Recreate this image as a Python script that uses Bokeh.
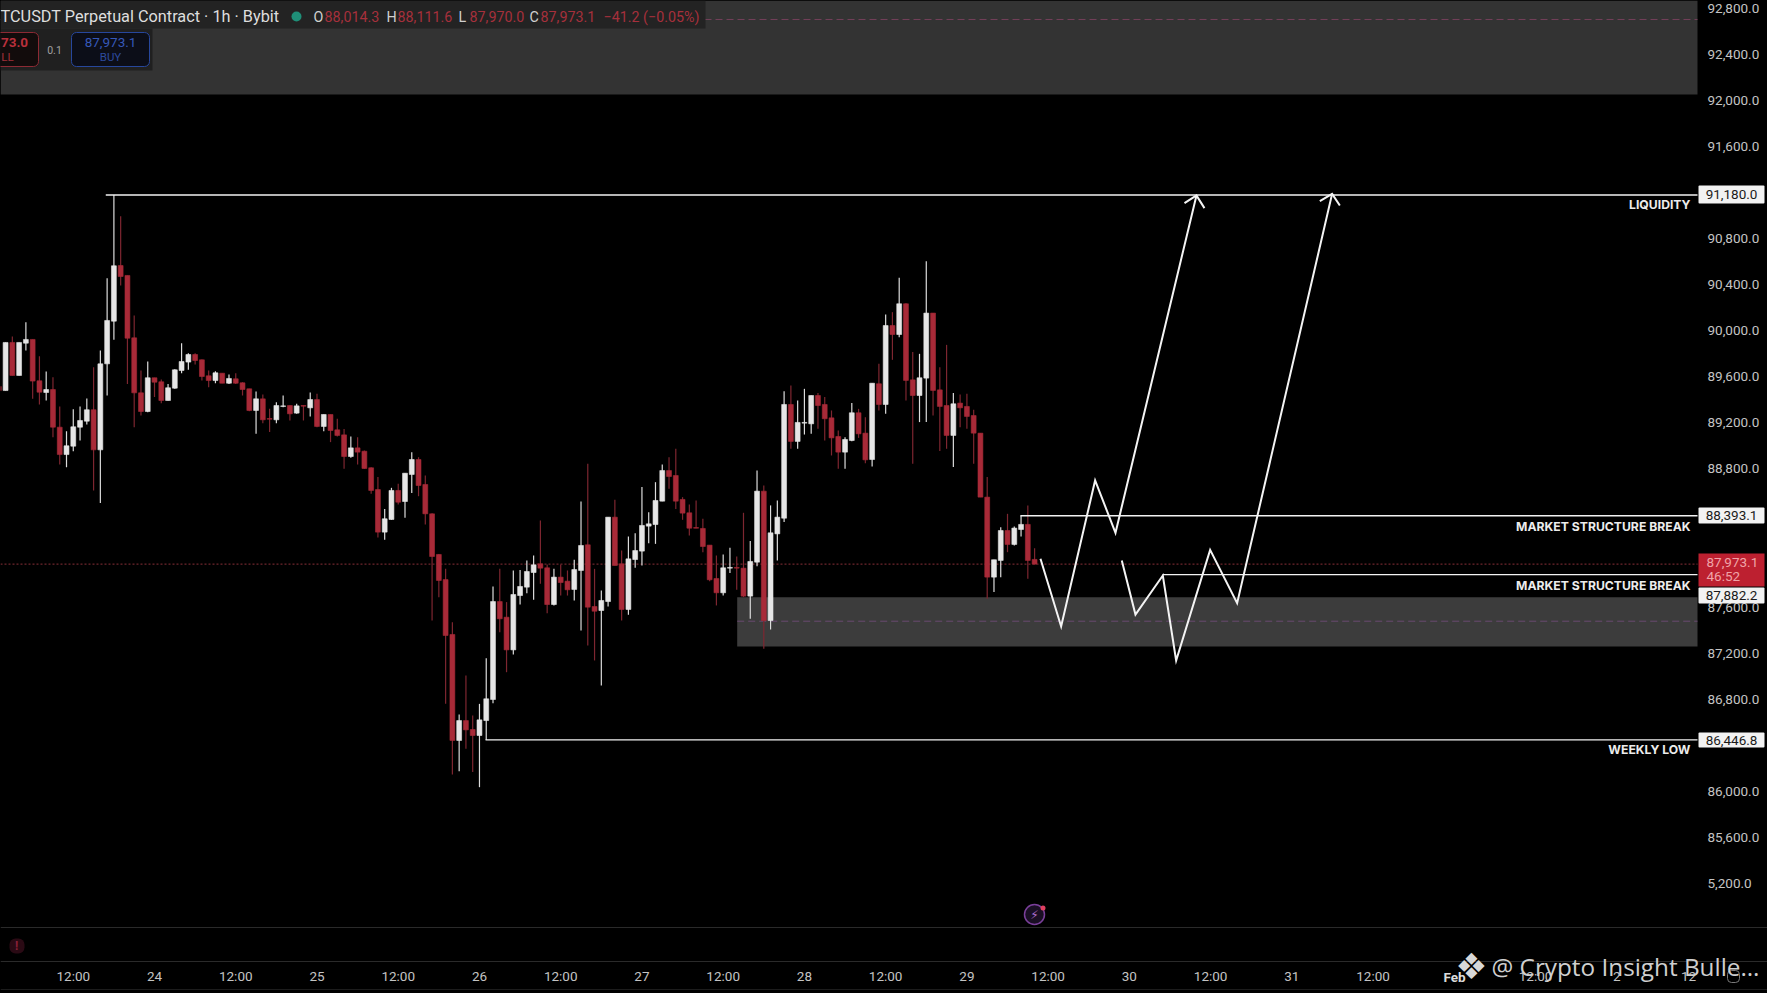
from bokeh.plotting import figure
from bokeh.models import (ColumnDataSource, Label, BoxAnnotation, FixedTicker, NumeralTickFormatter,
                          GlobalInlineStyleSheet)
from bokeh.embed import file_html
from bokeh.resources import INLINE

hours = list(range(-23, 131))
open_ = [89516,89481,89899,89612,89893,89925,89566,89464,89490,89163,88925,88998,89163,89215,89314,88966,89713,90084,90567,90481,89939,89461,89299,
89592,89557,89395,89502,89655,89728,89794,89748,89609,89568,89632,89545,89583,89548,89496,89308,89409,89238,89227,89343,89351,89285,89351,89331,
89403,89169,89273,89140,89096,88908,88983,88954,88810,88621,88251,88361,88613,88517,88752,88882,88665,88410,88057,87839,87362,86441,86614,86536,
86484,86614,86797,87648,87512,87228,87700,87773,87900,87976,87941,87622,87860,87825,87753,87918,88141,87605,87570,87648,88381,87976,87579,88013,
88086,88303,88317,88520,88786,88743,88535,88419,88291,88283,88138,87848,87724,87938,87944,87938,87695,87990,88607,87483,88236,88372,
89360,89039,89198,89192,89438,89360,89244,89082,88946,89047,89288,89111,88882,89540,89360,90046,89968,90235,89574,89438,89589,90154,89487,89351,89091,89372,
89343,89264,89111,88555,87860,88005,88265,88144,88274,88318,88014]
high_ = [89516,89899,89951,89899,90075,89925,89780,89647,89597,89343,89128,89319,89343,89412,89684,89829,90457,91180,90996,90481,90133,89655,89733,
89592,89577,89539,89667,89893,89806,89806,89751,89655,89649,89632,89621,89632,89554,89496,89473,89447,89322,89380,89438,89351,89366,89351,89464,
89453,89273,89273,89235,89148,89082,89076,88960,88815,88729,88453,88636,88671,88763,88946,88902,88743,88416,88062,87932,87469,86667,87005,86658,
86759,87156,87779,87932,87643,87918,87923,88005,88048,88352,87970,87932,87970,87918,88010,88517,88844,87932,87744,88381,88532,88091,88213,88242,
88642,88424,88685,88839,88902,88975,88555,88491,88526,88367,88138,88048,88057,88115,88039,88419,88173,88787,88656,88483,88526,89476,
89525,89395,89496,89438,89459,89424,89308,89134,89076,89372,89322,89250,89545,89713,90142,90162,90461,90240,89815,89800,90605,90154,89684,89878,89459,89447,
89453,89314,89111,88729,88011,88294,88410,88300,88393,88483,88111]
low_ = [89481,89481,89612,89612,89829,89409,89360,89395,89076,88839,88815,88954,89047,89186,88613,88503,89438,89922,90394,89539,89163,89264,89293,
89424,89371,89395,89496,89632,89661,89707,89568,89510,89545,89545,89539,89539,89438,89302,89105,89198,89120,89198,89337,89221,89279,89221,89256,
89163,89128,89033,89082,88801,88897,88839,88801,88584,88205,88184,88358,88491,88375,88592,88563,88317,87483,87686,86759,86145,86174,86368,86166,
86035,86446,86765,87382,87034,87188,87622,87721,87663,87802,87547,87614,87700,87700,87657,87396,87266,87136,86919,87605,87961,87483,87533,87941,
87961,88155,88149,88520,88627,88453,88358,88222,88285,88077,87825,87614,87700,87895,87750,87686,87498,87955,87237,87405,88005,88338,
88975,88975,89099,89105,89149,89047,88917,88801,88801,89040,89070,88850,88821,89308,89279,89748,89945,89395,88845,89207,89207,89264,88955,88975,88816,89163,
89149,88845,88555,87672,87730,87860,88077,88135,88213,87845,87970]
close_ = [89481,89899,89612,89899,89925,89563,89467,89490,89163,88925,89001,89166,89221,89314,88966,89713,90090,90565,90472,89936,89461,89299,89592,
89554,89395,89505,89661,89733,89794,89742,89603,89568,89635,89545,89586,89545,89490,89308,89409,89227,89232,89351,89348,89279,89348,89345,89403,
89169,89273,89134,89091,88908,88983,88946,88804,88613,88251,88367,88613,88511,88763,88882,88656,88410,88039,87831,87353,86441,86614,86533,86484,
86620,86803,87648,87498,87228,87709,87779,87909,87967,87938,87622,87860,87813,87750,87926,88135,87599,87564,87657,88381,87961,87579,88019,88091,
88309,88323,88526,88786,88734,88520,88416,88285,88285,88126,87837,87724,87941,87944,87938,87695,87996,88607,87483,88245,88381,89360,
89039,89204,89204,89438,89351,89236,89070,88946,89056,89288,89105,88879,89545,89360,90046,89968,90235,89569,89438,89592,90154,89482,89343,89091,89366,89331,
89256,89111,88555,87860,88011,88265,88144,88286,88318,88005,87973]

price_ticks = [92800,92400,92000,91600,90800,90400,90000,89600,89200,88800,87600,87200,86800,86000,85600,85200]
price_overrides = {85200: "5,200.0"}
time_ticks = [-12,0,12,24,36,48,60,72,84,96,108,120,132,144,156,168,180,192,204,216]
time_labels = ["12:00","24","12:00","25","12:00","26","12:00","27","12:00","28","12:00","29","12:00","30","12:00","31","12:00","","12:00","2"]

liquidity, msb_high, msb_low, weekly_low, last_price = 91180.0, 88393.1, 87882.2, 86446.8, 87973.1
demand_top, demand_bottom, demand_start = 87686, 87257, 86.07
top_zone_bottom = 92053
top_dash, zone_dash = 92705, 87477
path_one_h = [130.87,133.92,138.94,141.95,153.91]
path_one_p = [88019,87431,88700,88245,91176]
path_two_h = [142.88,144.90,148.94,150.91,155.93,159.92,173.95]
path_two_p = [88005,87535,87874,87136,88097,87634,91190]
head_one_h = [152.14,153.91,155.09]
head_one_p = [91109,91176,91066]
head_two_h = [172.13,173.95,175.09]
head_two_p = [91127,91190,91089]

X0, XF, X1 = -22.75, 227.92, 238.26
Y0, YF, Y1 = 84242.6, 84520.6, 92869.8
RED, WHITE = "#a82a38", "#e6e6e6"
REDW, WHITEW = "#7e2630", "#dcdcdc"
TXT = "#c4c4c4"

p = figure(width=1767, height=993, x_range=(X0, X1), y_range=(Y0, Y1), y_axis_location="right",
           tools="", toolbar_location=None, output_backend="svg", background_fill_color="#000000",
           border_fill_color="#000000", outline_line_color=None, min_border_left=0, min_border_top=0,
           min_border_right=0, min_border_bottom=0)
p.stylesheets = [GlobalInlineStyleSheet(css="html,body{margin:0;background:#000;overflow:hidden}")]
p.grid.visible = False

ya = p.yaxis[0]
ya.fixed_location = XF
ya.ticker = FixedTicker(ticks=price_ticks)
ya.formatter = NumeralTickFormatter(format="0,0.0")
ya.major_label_overrides = price_overrides
ya.major_label_text_font = "Roboto"
ya.major_label_text_font_size = "13.5px"
ya.major_label_text_color = TXT
ya.major_label_standoff = 4
ya.axis_line_color = None
ya.major_tick_line_color = None
ya.minor_tick_line_color = None

xa = p.xaxis[0]
xa.fixed_location = YF
xa.ticker = FixedTicker(ticks=time_ticks)
xa.major_label_overrides = dict(zip(time_ticks, time_labels))
xa.major_label_text_font = "Roboto"
xa.major_label_text_font_size = "13.5px"
xa.major_label_text_color = TXT
xa.major_label_standoff = 0
xa.axis_line_color = None
xa.major_tick_line_color = None
xa.minor_tick_line_color = None

# zones
p.quad(left=[X0], right=[XF], top=[Y1], bottom=[top_zone_bottom], fill_color="#333333", line_color=None)
p.quad(left=[demand_start], right=[XF], top=[demand_top], bottom=[demand_bottom], fill_color="#3c3c3c", line_color=None)

# price lines
p.line([X0, XF], [last_price, last_price], line_color="#8a2f38", line_width=1, line_dash="2 2")
p.line([demand_start, XF], [zone_dash, zone_dash], line_color="#6a4a70", line_width=1, line_dash="7 4")
p.line([X0, XF], [top_dash, top_dash], line_color="#74405a", line_width=1, line_dash="7 4")

# candles
rows = list(zip(hours, open_, high_, low_, close_))
ups = [r for r in rows if r[4] >= r[1]]
downs = [r for r in rows if r[4] < r[1]]
for group, body, wick in ((downs, RED, REDW), (ups, WHITE, WHITEW)):
    src = ColumnDataSource(dict(h=[r[0] for r in group], o=[r[1] for r in group], hi=[r[2] for r in group],
                                lo=[r[3] for r in group], c=[r[4] for r in group]))
    p.segment(x0="h", x1="h", y0="lo", y1="hi", source=src, line_color=wick, line_width=1.2)
    p.vbar(x="h", width=0.72, top="o", bottom="c", source=src, fill_color=body, line_color=body, line_width=0.6)

# level lines
for start, level in ((-7.2, liquidity), (127.9, msb_high), (148.9, msb_low), (48.9, weekly_low)):
    p.line([start, XF], [level, level], line_color="#f2f2f2", line_width=1.3)

# projected paths
for xs, ys, w in ((path_one_h, path_one_p, 2), (path_two_h, path_two_p, 2), (head_one_h, head_one_p, 2), (head_two_h, head_two_p, 2)):
    p.line(xs, ys, line_color="#f4f4f4", line_width=w, line_join="miter")


def box(l, t, r, b, fill=None, line=None, radius=0, lw=1):
    p.add_layout(BoxAnnotation(left=l, right=r, top=t, bottom=b, left_units="canvas", right_units="canvas",
                               top_units="canvas", bottom_units="canvas", fill_color=fill, fill_alpha=1 if fill else 0,
                               line_color=line, line_width=lw, line_alpha=1 if line else 0, border_radius=radius))


def lab(x, y, text, color=TXT, size=13.5, font="Roboto", align="left", style="normal"):
    p.add_layout(Label(x=x, y=y, x_units="canvas", y_units="canvas", text=text, text_color=color,
                       text_font=font, text_font_size=f"{size}px", text_align=align, text_baseline="middle",
                       text_font_style=style))


# pane separators
box(0, 926.5, 1767, 927.5, fill="#2a2a2a")
box(0, 960.5, 1767, 961.5, fill="#2a2a2a")
box(0, 988.5, 1767, 989.5, fill="#1c1c1c")

# legend
box(0, 0, 705, 28, fill="#232323")
box(0, 28, 152, 70, fill="#202020")
lab(0, 16, "TCUSDT Perpetual Contract · 1h · Bybit", color="#dedede", size=16.3)
box(291, 11, 301, 21, fill="#1f8f78", radius=5)
vals = ((313, "O", "88,014.3"), (386, "H", "88,111.6"), (458, "L", "87,970.0"), (529, "C", "87,973.1"))
for x, k, v in vals:
    lab(x, 16, k, color="#d0d0d0", size=14.3)
    lab(x + 11, 16, v, color="#a6303c", size=14.3)
lab(603, 16, "−41.2 (−0.05%)", color="#a6303c", size=14.3)
box(-6, 32, 38, 66, fill="#120c0c", line="#8c2a34", radius=5)
lab(14, 42, "73.0", color="#b8303c", size=13.5, align="center", style="bold")
lab(7, 56, "LL", color="#a0303a", size=11.5, align="center")
lab(54, 49, "0.1", color="#a0a0a0", size=10.5, align="center")
box(71, 32, 149, 66, fill="#0c0e18", line="#27479c", radius=5)
lab(110, 42, "87,973.1", color="#3658b8", size=13.5, align="center")
lab(110, 56, "BUY", color="#2c4a9c", size=11.5, align="center")

# level text
for y, t in ((204, "LIQUIDITY"), (525.7, "MARKET STRUCTURE BREAK"), (584.7, "MARKET STRUCTURE BREAK"), (749.3, "WEEKLY LOW")):
    lab(1690, y, t, color="#ececec", size=12.2, font="Inter", align="right", style="bold")

# price tags
for t, b, s in ((185, 203, "91,180.0"), (507, 523, "88,393.1"), (587, 603, "87,882.2"), (732, 747, "86,446.8")):
    box(1698, t, 1764, b, fill="#f2f2f2", radius=1)
    lab(1731, (t + b) / 2, s, color="#1a1a1a", align="center")
box(1698, 553, 1764, 586, fill="#bd2030")
lab(1706, 561.5, "87,973.1", color="#f0a4a8")
lab(1706, 575.5, "46:52", color="#f0a4a8")

# x-axis extras
lab(1454, 976, "Feb", color="#dcdcdc", size=13.5, align="center", style="bold")
lab(1688, 976, "12", align="center")
box(1727, 970, 1739, 982, line="#7a7a7a", radius=4)

# icons
box(1024, 904, 1044, 924, fill="#1a0f24", line="#7a3f9a", radius=10, lw=1.5)
lab(1034, 914, "⚡", color="#b070d0", size=12, font="DejaVu Sans", align="center")
box(1040, 905, 1045, 910, fill="#e04060", radius=3)
box(9, 938, 24, 953, fill="#2a0a14", radius=6)
lab(16, 945, "!", color="#8a2038", size=12, align="center", style="bold")

# watermark
lab(1471, 966, "❖", color="#d8d8d8", size=36, font="DejaVu Sans", align="center")
lab(1491, 966, "@ Crypto Insight Bulle…", color="#cfcfcf", size=24.3, font="Open Sans")

open("out.html", "w").write(file_html(p, INLINE))
